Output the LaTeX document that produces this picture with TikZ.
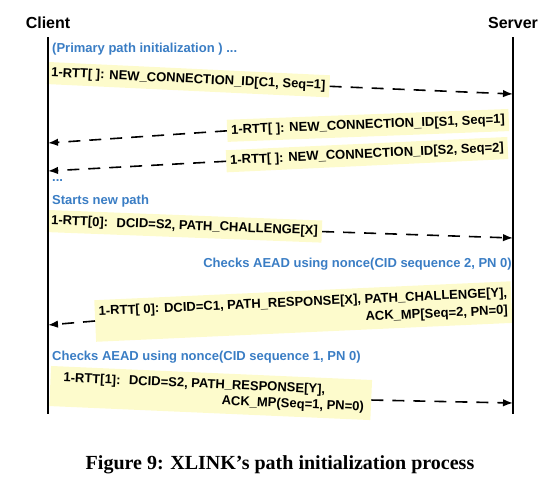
\documentclass[tikz,border=0pt]{standalone}
\usepackage{fontspec}
\newfontfamily\helv{Liberation Sans}
\newfontfamily\capfont{Liberation Serif}
\usetikzlibrary{shapes,arrows,arrows.meta}
\usetikzlibrary{positioning}
\definecolor{msgyellow}{RGB}{253,251,204}
\definecolor{noteblue}{RGB}{58,125,196}
\newcommand{\msgfont}{\fontsize{13}{16}\selectfont\helv\bfseries}
\tikzstyle{peer} = [font=\fontsize{16}{18}\selectfont\helv\bfseries, inner sep=0pt]
\tikzstyle{msg} = [fill=msgyellow, inner xsep=4pt, inner ysep=5pt, font=\msgfont]
\tikzstyle{note} = [text=noteblue, inner sep=0pt, font=\msgfont]
\tikzstyle{lifeline} = [line width=1.6pt]
\tikzstyle{packet} = [->, dash pattern=on 12pt off 9pt, line width=1.6pt]

\begin{document}
\begin{tikzpicture}[x=1pt, y=-1pt, >={Latex[length=10pt,width=7.5pt]}]
    \useasboundingbox (0,0) rectangle (560,482);

    % Placing the peers
    \node [peer, anchor=base] (client) at (48,28) {Client};
    \node [peer, anchor=base] (server) at (513,28) {Server};
    \coordinate (client top) at (48,37);
    \coordinate (client bottom) at (48,414);
    \coordinate (server top) at (513,37);
    \coordinate (server bottom) at (513,414);

    % Placing the messages
    \node [note, anchor=base west] (primary) at (52,52) {(Primary path initialization ) ...};
    \node [msg, anchor=west, rotate=-2.7] (ncid c1) at (47,73) {1-RTT[ ]: NEW\_CONNECTION\_ID[C1, Seq=1]};
    \node [msg, anchor=east, rotate=2.2] (ncid s1) at (509,120) {1-RTT[ ]: NEW\_CONNECTION\_ID[S1, Seq=1]};
    \node [msg, anchor=east, rotate=2.7] (ncid s2) at (508,148) {1-RTT[ ]: NEW\_CONNECTION\_ID[S2, Seq=2]};
    \node [note, anchor=base west] (dots) at (52,181) {...};
    \node [note, anchor=base west] (new path) at (52,204) {Starts new path};
    \node [msg, anchor=west, rotate=-2.2] (challenge) at (47,221) {1-RTT[0]:~ DCID=S2, PATH\_CHALLENGE[X]};
    \node [note, anchor=base east] (check s) at (512,267) {Checks AEAD using nonce(CID sequence 2, PN 0)};
    \node [msg, anchor=west, rotate=2.6, align=right, inner ysep=6pt] (response s) at (95,321)
        {1-RTT[ 0]: DCID=C1, PATH\_RESPONSE[X], PATH\_CHALLENGE[Y],\\[1.5pt]ACK\_MP[Seq=2, PN=0]};
    \node [note, anchor=base west] (check c) at (52,360) {Checks AEAD using nonce(CID sequence 1, PN 0)};
    \node [msg, anchor=west, rotate=-2.5, align=left, inner xsep=7pt, inner ysep=6pt] (response c) at (50,386)
        {\hspace*{6pt}1-RTT[1]:~ DCID=S2, PATH\_RESPONSE[Y],\\\hspace*{165pt}ACK\_MP(Seq=1, PN=0)};
    \node [font=\fontsize{20}{22}\selectfont\capfont\bfseries, inner sep=0pt, anchor=base] (caption) at (280,469)
        {Figure 9: XLINK’s path initialization process};

    \coordinate (s1) at (513,94);
    \coordinate (c1) at (48,143);
    \coordinate (c2) at (48,171);
    \coordinate (s2) at (513,238);
    \coordinate (c3) at (48,325);
    \coordinate (s3) at (513,403);

    % Connecting the nodes
    \draw [lifeline] (client top) -- (client bottom);
    \draw [lifeline] (server top) -- (server bottom);
    \draw [packet] (ncid c1.east) -- (s1);
    \draw [packet] (ncid s1.west) -- (c1);
    \draw [packet] (ncid s2.west) -- (c2);
    \draw [packet] (challenge.east) -- (s2);
    \draw [packet] (response s.west) -- (c3);
    \draw [packet] (response c.east) -- (s3);
\end{tikzpicture}
\end{document}
